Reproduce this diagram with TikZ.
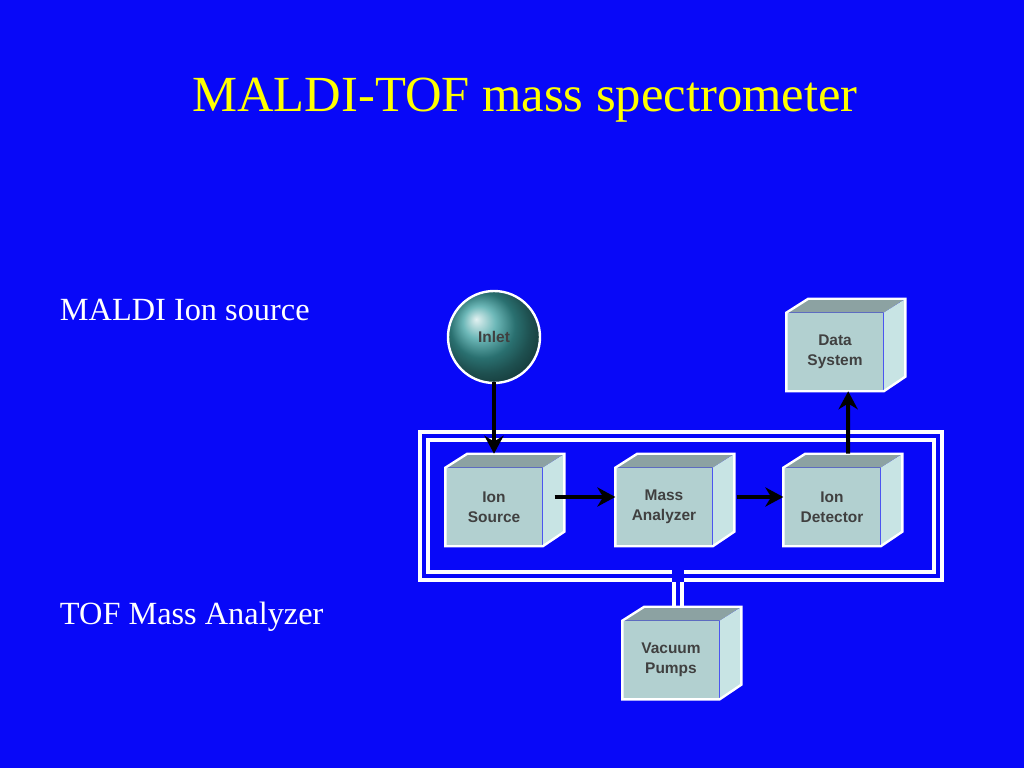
\documentclass[tikz,border=0pt]{standalone}
\usepackage{fontspec}
\setmainfont{Liberation Serif}
\setsansfont{Liberation Sans}
\usetikzlibrary{arrows.meta, positioning}
\definecolor{slideblue}{RGB}{8,8,248}
\definecolor{titleyellow}{RGB}{255,255,0}
\definecolor{frontgrey}{RGB}{178,208,208}
\definecolor{topgrey}{RGB}{140,162,162}
\definecolor{sidegrey}{RGB}{200,228,228}
\definecolor{ballteal}{RGB}{60,160,160}
\tikzset{
  unit/.style={rectangle, fill=frontgrey, minimum width=2.42cm, minimum height=1.95cm,
    inner sep=0pt, align=center, font=\sffamily\bfseries\fontsize{11}{14}\selectfont, text=black!75},
  flow/.style={-{Stealth[length=4.5mm,width=4.8mm]}, line width=1mm, black},
  pipe/.style={white, line width=0.9mm, double=slideblue, double distance=1.2mm},
  slidetext/.style={white, font=\fontsize{23}{28}\selectfont, anchor=west}
}
\begin{document}
\begin{tikzpicture}[x=0.025cm, y=-0.025cm]
  \fill[slideblue] (0,0) rectangle (1024,768);
  \useasboundingbox (0,0) rectangle (1024,768);

  \node (title) [titleyellow, font=\fontsize{36}{44}\selectfont] at (525,100) {MALDI-TOF mass spectrometer};
  \node (maldi) [slidetext] at (55,310) {MALDI Ion source};
  \node (tof) [slidetext] at (55,617) {TOF Mass Analyzer};

  % vacuum housing
  \draw[pipe] (424,436) rectangle (938,576);
  \draw[pipe] (678,576) -- (678,612);
  \fill[slideblue] (672,570) rectangle (684,582);

  \node (source) [unit] at (494,507) {Ion\\Source};
  \node (analyzer) [unit] at (664,507) {Mass\\Analyzer};
  \node (detector) [unit] at (832,507) {Ion\\Detector};
  \node (data) [unit] at (835,352) {Data\\System};
  \node (pumps) [unit] at (671,660) {Vacuum\\Pumps};

  % top and side faces
  \foreach \b in {source, analyzer, detector, data, pumps} {
    \fill[topgrey] (\b.north west) -- ++(22,-14) -- ++(97,0) -- (\b.north east) -- cycle;
    \fill[sidegrey] (\b.north east) -- ++(22,-14) -- ++(0,78) -- (\b.south east) -- cycle;
    \draw[white, line width=0.6mm] (\b.south west) -- (\b.north west) -- ++(22,-14)
      -- ++(97,0) -- ++(0,78) -- (\b.south east) -- cycle;
  }

  \shade[ball color=ballteal] (494,337) circle (45);
  \draw[white, line width=0.6mm] (494,337) circle (46);
  \node (inlet) [font=\sffamily\bfseries\fontsize{11}{14}\selectfont, text=black!75, minimum size=2.25cm, circle] at (494,337) {Inlet};

  \draw[flow] (inlet.south) -- ([yshift=0.35cm]inlet.south |- source.north);
  \draw[flow] ([xshift=0.3cm,yshift=0.25cm]source.east) -- ([yshift=0.25cm]analyzer.west);
  \draw[flow] ([xshift=0.6cm,yshift=0.25cm]analyzer.east) -- ([yshift=0.25cm]detector.west);
  \draw[flow] ([xshift=0.4cm,yshift=0.35cm]detector.north) -- ([xshift=0.33cm]data.south);
\end{tikzpicture}
\end{document}
